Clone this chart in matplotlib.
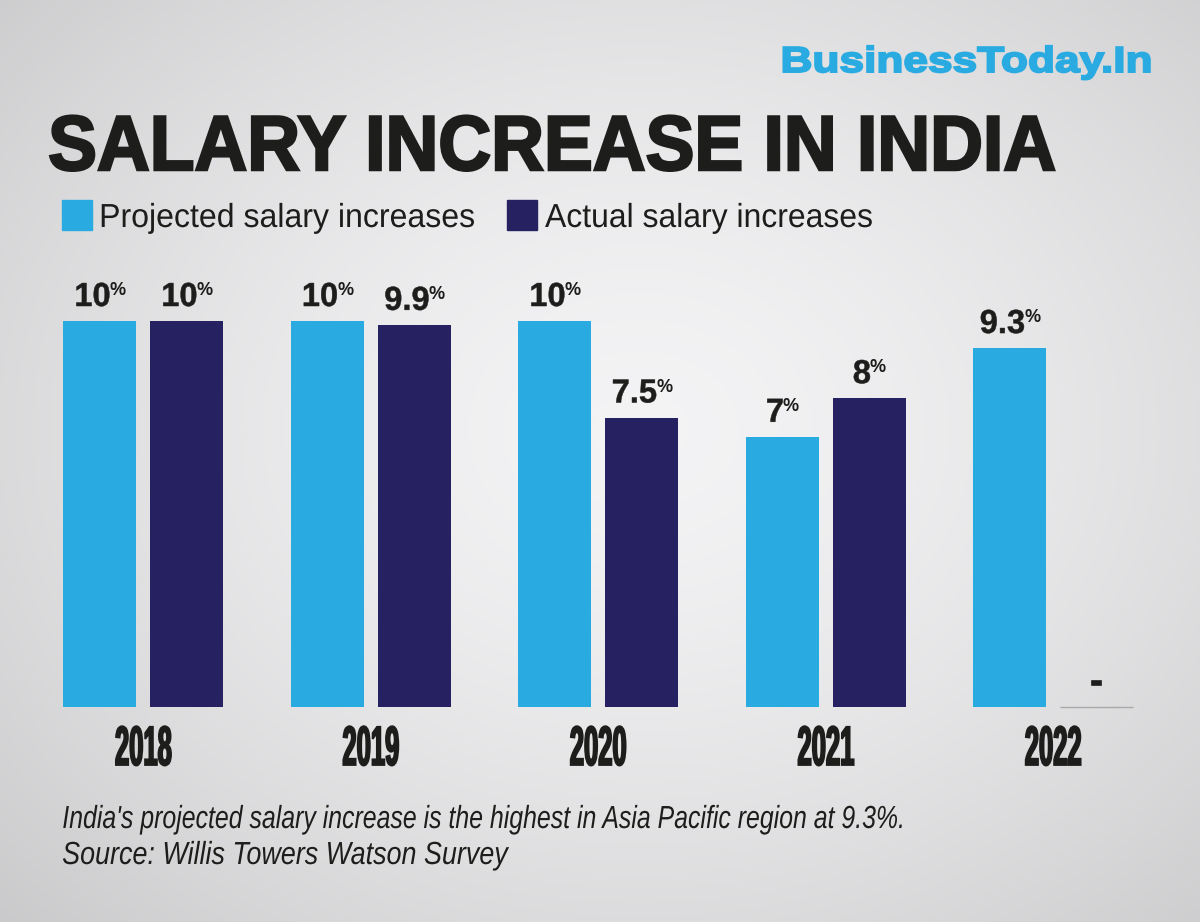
import numpy as np
import matplotlib
matplotlib.use("Agg")
import matplotlib.pyplot as plt
from matplotlib import patheffects
from matplotlib.transforms import Affine2D
from matplotlib.patches import Rectangle
from matplotlib.offsetbox import TextArea, HPacker, AnnotationBbox

# data
years = ["2018", "2019", "2020", "2021", "2022"]
projected = [10, 10, 10, 7, 9.3]
actual = [10, 9.9, 7.5, 8, None]   # 2022 actual not yet known ("-")
series_names = ["Projected salary increases", "Actual salary increases"]

title = "SALARY INCREASE IN INDIA"
brand = "BusinessToday.In"
note = ["India's projected salary increase is the highest in Asia Pacific region at 9.3%.",
        "Source: Willis Towers Watson Survey"]

C_PROJ = "#29ABE2"
C_ACT = "#262262"
C_TXT = "#1D1D1B"
FONT = "Liberation Sans"

W, H = 1200, 922


class Squeeze(patheffects.AbstractPathEffect):
    """Scale text horizontally (fake condensed / wide font), optional stroke to thicken."""

    def __init__(self, sx=1.0, anchor="center", stroke=0.0):
        super().__init__()
        self.sx = sx
        self.anchor = anchor
        self.stroke = stroke

    def draw_path(self, renderer, gc, tpath, affine, rgbFace=None):
        ext = tpath.get_extents()
        if self.anchor == "left":
            x0 = ext.x0
        elif self.anchor == "right":
            x0 = ext.x1
        else:
            x0 = (ext.x0 + ext.x1) / 2
        pre = Affine2D().translate(-x0, 0).scale(self.sx, 1).translate(x0, 0)
        gc0 = renderer.new_gc()
        gc0.copy_properties(gc)
        if self.stroke:
            gc0.set_linewidth(self.stroke)
            gc0.set_foreground(rgbFace)
            gc0.set_joinstyle("miter")
        renderer.draw_path(gc0, tpath, pre + affine, rgbFace)
        gc0.restore()


def fx(px):
    return px / W


def fy(py):
    return 1 - py / H


fig = plt.figure(figsize=(W / 100, H / 100), dpi=100)

# soft radial grey background
bg = fig.add_axes([0, 0, 1, 1])
yy, xx = np.mgrid[0:H, 0:W]
r = np.hypot((xx - 640) / 700, (yy - 430) / 560)
g = 0.955 - 0.15 * np.clip(r / 1.2, 0, 1.1) ** 1.5
img = np.dstack([g, g, np.clip(g + 0.006, 0, 1)])
bg.imshow(img, extent=[0, 1, 0, 1], aspect="auto", zorder=0)
bg.axis("off")

# main bar axes: bottom of bars at y=707px, 10% = 386px
px_per_unit = 38.6
ax_bottom, ax_top = 707, 250
ax = fig.add_axes([0, fy(ax_bottom), 1, (ax_bottom - ax_top) / H])
ax.set_ylim(0, (ax_bottom - ax_top) / px_per_unit)
ax.set_xlim(-0.63, 4.645)
ax.axis("off")
ax.patch.set_alpha(0)

x = np.arange(len(years))
bw = 0.321
off = 0.191

act_h = [v if v is not None else 0 for v in actual]
ax.bar(x - off, projected, bw, color=C_PROJ, clip_on=False)
act_bars = ax.bar(x + off, act_h, bw, color=C_ACT, clip_on=False)
for b, v in zip(act_bars, actual):
    if v is None:
        b.set_facecolor("none")
        b.set_edgecolor("#A9A9A9")
        b.set_linewidth(1.0)

num_props = dict(fontsize=24, fontweight="bold", color=C_TXT, family=FONT,
                 path_effects=[Squeeze(0.98, "center", 0.35)])
pct_props = dict(fontsize=13, fontweight="bold", color=C_TXT, family=FONT)


def value_label(xpos, val):
    if val is None:
        parts = [TextArea("-", textprops=dict(num_props, path_effects=[Squeeze(1.1, "center", 1.2)]))]
        h = 0
    else:
        parts = [TextArea(f"{val:g}", textprops=num_props),
                 TextArea("%", textprops=pct_props)]
        h = val
    box = HPacker(children=parts, align="top", pad=0, sep=-1)
    ab = AnnotationBbox(box, (xpos, h), xybox=(0, 8), boxcoords="offset pixels",
                        box_alignment=(0.5, 0), frameon=False, annotation_clip=False)
    ax.add_artist(ab)


for i in range(len(years)):
    value_label(x[i] - off, projected[i])
    value_label(x[i] + off, actual[i])

# year labels, condensed heavy look
for i, yr in enumerate(years):
    ax.annotate(yr, (x[i], 0), xytext=(0, -58), textcoords="offset pixels",
                ha="center", va="baseline", fontsize=40, fontweight="bold",
                family=FONT, color=C_TXT, annotation_clip=False,
                path_effects=[Squeeze(0.46, "center", 1.3)])

# title, brand, legend, note
renderer = fig.canvas.get_renderer()


def fit(txt, width_px, anchor="left", stroke=0.0):
    w = txt.get_window_extent(renderer=renderer).width
    txt.set_path_effects([Squeeze(width_px / w, anchor, stroke)])


t_title = fig.text(fx(48), fy(170), title, fontsize=56, fontweight="bold",
                   family=FONT, color=C_TXT, va="baseline", ha="left")
fit(t_title, 1008, "left", 1.8)

t_brand = fig.text(fx(1152), fy(72), brand, fontsize=26, fontweight="bold",
                   family=FONT, color=C_PROJ, va="baseline", ha="right")
fit(t_brand, 372, "right", 1.4)

legend_spec = [(62, 99, 376), (507, 545, 328)]
for (sq_x, tx, tw), name, col in zip(legend_spec, series_names, [C_PROJ, C_ACT]):
    fig.patches.append(Rectangle((fx(sq_x), fy(230)), 30 / W, 30 / H,
                                 transform=fig.transFigure, color=col))
    t = fig.text(fx(tx), fy(227), name, fontsize=24, family=FONT, color=C_TXT,
                 va="baseline", ha="left")
    fit(t, tw, "left")

for line, base, tw in zip(note, [828, 864], [843, 446]):
    t = fig.text(fx(62), fy(base), line, fontsize=23, style="italic",
                 family=FONT, color=C_TXT, va="baseline", ha="left")
    fit(t, tw, "left")

fig.savefig("out.png", dpi=100)
